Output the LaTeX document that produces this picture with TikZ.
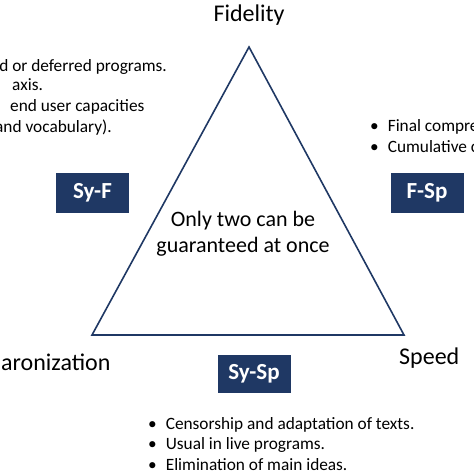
\documentclass[tikz,border=0pt]{standalone}
\usepackage{fontspec}
\setmainfont{Carlito}
\definecolor{navy}{HTML}{1F3864}
\begin{document}
\begin{tikzpicture}[x=1pt,y=-1pt,
  tri/.style={draw=navy, line width=1.6pt, line join=miter},
  tag/.style={fill=navy, text=white, font=\fontsize{23}{27}\selectfont\bfseries, minimum width=73pt, minimum height=40pt, inner sep=0pt},
  vlabel/.style={font=\fontsize{24}{29}\selectfont, inner sep=0pt},
  ctext/.style={font=\fontsize{22}{26}\selectfont, inner sep=0pt},
  btext/.style={font=\fontsize{17.3}{20}\selectfont, inner sep=0pt}]
\useasboundingbox (0,0) rectangle (474,474);
\clip (0,0) rectangle (474,474);
\coordinate (A) at (249,47);
\coordinate (B) at (92,335);
\coordinate (C) at (404,335);
\draw[tri] (A) -- (B) -- (C) -- cycle;
% vertex labels
\node[vlabel, anchor=base] (fid) at (249,21) {Fidelity};
\node[vlabel, anchor=base west] (spd) at (399,364) {Speed};
\node[vlabel, anchor=base west] (syn) at (1,370) {aronization};
% centre text
\node[ctext, anchor=base] (c1) at (243,226) {Only two can be};
\node[ctext, anchor=base] (c2) at (243,252) {guaranteed at once};
% tags
\node[tag] (syf) at (92.5,193) {Sy-F};
\node[tag] (fsp) at (427,193) {F-Sp};
\node[tag, minimum height=38pt] (sysp) at (254,374) {Sy-Sp};
% top-left text
\node[btext, anchor=base east] (l1) at (167,71) {d or deferred programs.};
\node[btext, anchor=base west] (l2) at (12,90) {axis.};
\node[btext, anchor=base west] (l3) at (10,111) {end user capacities};
\node[btext, anchor=base east] (l4) at (112,132) {and vocabulary).};
% right text
\node[btext, anchor=base west] (r1) at (370,131) {\textbullet\hspace{9pt}Final compre};
\node[btext, anchor=base west] (r2) at (370,152) {\textbullet\hspace{9pt}Cumulative c};
% bottom text
\node[btext, anchor=base west] (b1) at (148,429) {\textbullet\hspace{9pt}Censorship and adaptation of texts.};
\node[btext, anchor=base west] (b2) at (148,449) {\textbullet\hspace{9pt}Usual in live programs.};
\node[btext, anchor=base west] (b3) at (148,470) {\textbullet\hspace{9pt}Elimination of main ideas.};
\end{tikzpicture}
\end{document}
